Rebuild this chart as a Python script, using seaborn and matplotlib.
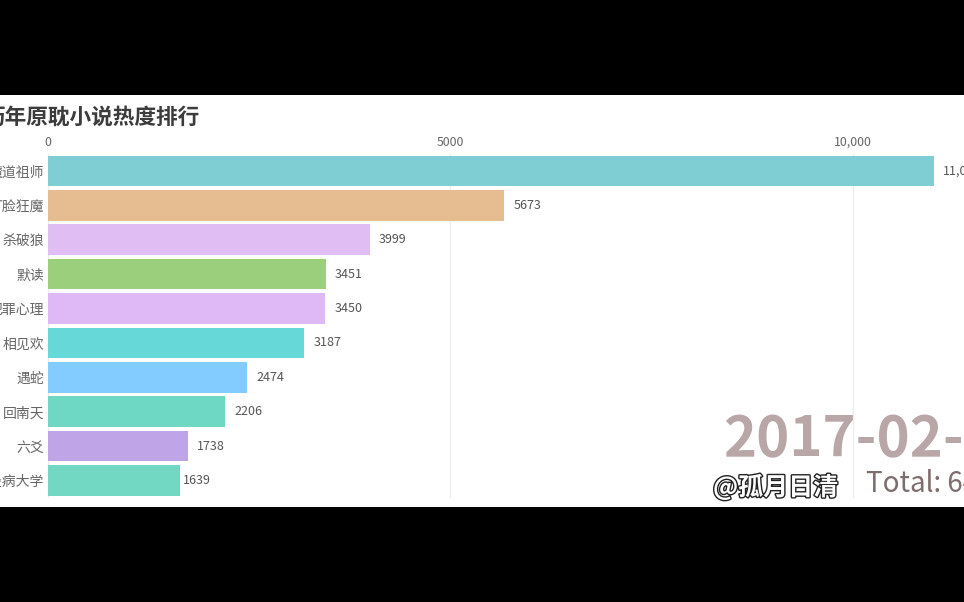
import matplotlib
matplotlib.use('Agg')
import matplotlib.pyplot as plt
import matplotlib.patheffects as pe
import pandas as pd
import seaborn as sns

titles = ['魔道祖师', '打脸狂魔', '杀破狼', '默读', '犯罪心理', '相见欢', '遇蛇', '回南天', '六爻', '神经病大学']
heat = [11006, 5673, 3999, 3451, 3450, 3187, 2474, 2206, 1738, 1639]
bar_colors = ['#7fced4', '#e6bd91', '#e0bdf2', '#9bcf7b', '#dfb9f5',
              '#66d8d8', '#82ccff', '#6fd8c5', '#bfa5e8', '#72d8c4']
xticks = [0, 5000, 10000]
xticklabels = ['0', '5000', '10,000']

W, H = 964, 602
sns.set_theme(style='white')
plt.rcParams['font.family'] = ['Noto Sans CJK SC', 'DejaVu Sans']

fig = plt.figure(figsize=(W / 100, H / 100), dpi=100, facecolor='black')

# white video frame between the black letterbox bars
bg = fig.add_axes([0, (H - 507) / H, 1, 412 / H], facecolor='white')
bg.set_axis_off()
bg.add_patch(plt.Rectangle((0, 0), 1, 1, color='white', transform=bg.transAxes))

ax = fig.add_axes([47.7 / W, (H - 497.7) / H, 916.3 / W, 344 / H], facecolor='none')
df = pd.DataFrame({'title': titles, 'heat': heat})
sns.barplot(data=df, x='heat', y='title', hue='title', palette=bar_colors, dodge=False,
            width=0.89, saturation=1, linewidth=0, legend=False, ax=ax, zorder=2)

ax.set_xlim(0, 916.3 / 0.0805)
ax.set_ylim(9.5, -0.5)
ax.set_xlabel('')
ax.set_ylabel('')
ax.xaxis.tick_top()
ax.set_xticks(xticks)
ax.set_xticklabels(xticklabels)
ax.tick_params(axis='x', length=0, pad=3.5, labelsize=8.9, labelcolor='#666666')
ax.tick_params(axis='y', length=0, pad=2.4, labelsize=10, labelcolor='#666666')
ax.grid(axis='x', color='#eeeeee', lw=1, zorder=0)
ax.grid(axis='y', visible=False)
ax.set_axisbelow(True)
sns.despine(ax=ax, left=True, bottom=True, top=True, right=True)

for i, v in enumerate(heat):
    off = 3.5 if i == len(heat) - 1 else 9.5
    label = f'{v:,}' if v >= 10000 else str(v)
    ax.annotate(label, (v, i), xytext=(off * 0.72, 0), textcoords='offset points',
                va='center', ha='left', fontsize=9, color='#555555', annotation_clip=False)

fig.text(200 / W, (H - 117) / H, '历年原耽小说热度排行', ha='right', va='center',
         fontsize=15.6, fontweight='bold', color='#3c3c3c')
fig.text(723 / W, (H - 456) / H, '2017-02-01', ha='left', va='baseline',
         fontsize=40.5, fontweight='bold', color='#b9a6a7')
fig.text(866 / W, (H - 492) / H, 'Total: 64000', ha='left', va='baseline',
         fontsize=20, color='#7d6d6d')
fig.text(713 / W, (H - 487) / H, '@孤月日清', ha='left', va='center', fontsize=18,
         fontweight='bold', color='white',
         path_effects=[pe.withStroke(linewidth=2, foreground='#222222')])

fig.savefig('out.png', dpi=100, facecolor=fig.get_facecolor())
